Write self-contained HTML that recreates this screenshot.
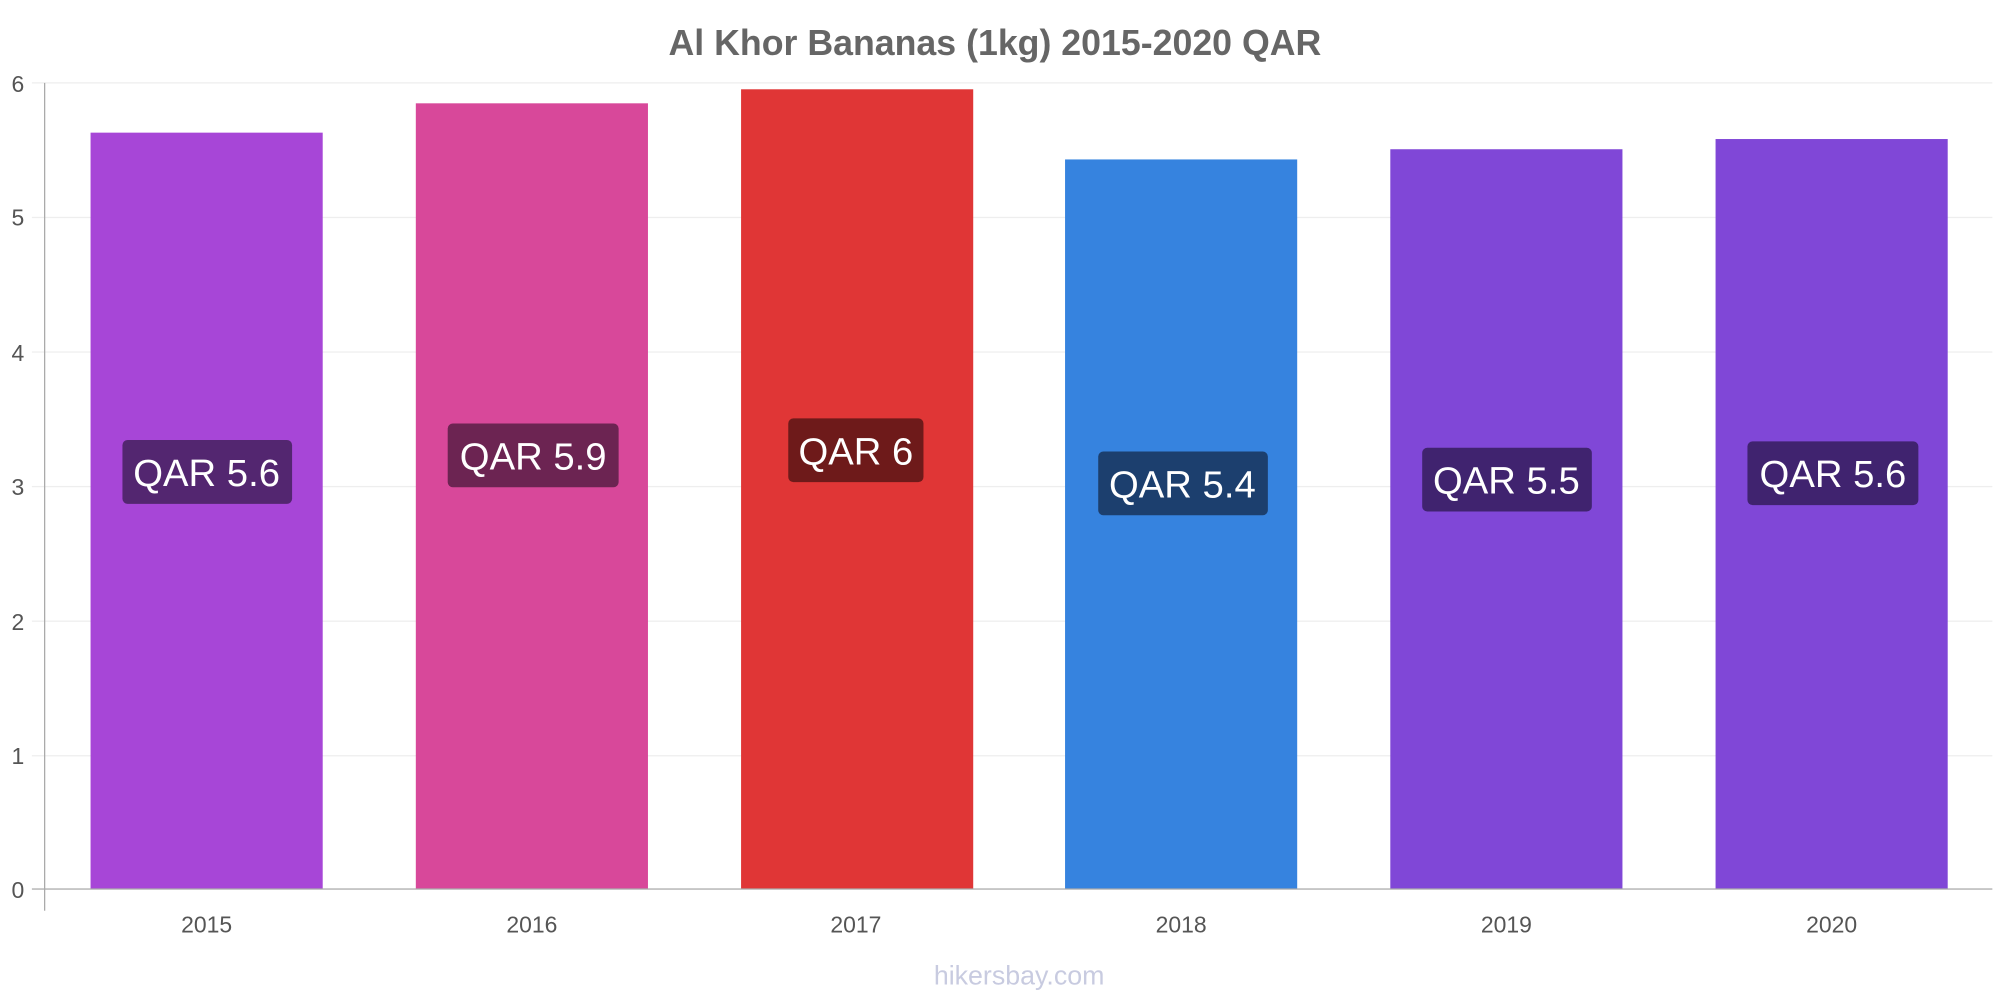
<!DOCTYPE html>
<html><head><style>html,body{margin:0;padding:0;background:#fff}svg{display:block}</style></head>
<body>
<svg width="2000" height="1000" viewBox="0 0 1568 784" xmlns="http://www.w3.org/2000/svg" font-family="Liberation Sans, sans-serif">
<text x="780" y="43" text-anchor="middle" font-size="28" font-weight="bold" fill="#666">Al Khor Bananas (1kg) 2015-2020 QAR</text>
<g fill="#eee">
<rect x="25" y="64.5" width="1537" height="1"/><rect x="25" y="170" width="1537" height="1"/><rect x="25" y="275.5" width="1537" height="1"/><rect x="25" y="381" width="1537" height="1"/><rect x="25" y="486.5" width="1537" height="1"/><rect x="25" y="592" width="1537" height="1"/>
</g>
<g font-size="18" fill="#555" text-anchor="end">
<text x="19" y="72">6</text><text x="19" y="177">5</text><text x="19" y="283">4</text><text x="19" y="388">3</text><text x="19" y="494">2</text><text x="19" y="599">1</text><text x="19" y="704">0</text>
</g>
<rect x="71" y="104" width="182" height="593" fill="#a746d7"/>
<rect x="326" y="81" width="182" height="616" fill="#d8489a"/>
<rect x="581" y="70" width="182" height="627" fill="#e03636"/>
<rect x="835" y="125" width="182" height="572" fill="#3683df"/>
<rect x="1090" y="117" width="182" height="580" fill="#8047d7"/>
<rect x="1345" y="109" width="182" height="588" fill="#8047d7"/>
<rect x="34.5" y="65" width="1" height="649" fill="#aaa"/>
<rect x="25" y="696.5" width="1537" height="1" fill="#aaa"/>
<g font-size="30" fill="#fff" text-anchor="middle">
<rect x="96" y="345" width="133" height="50" rx="4" fill="#532670"/><text x="162" y="381">QAR 5.6</text>
<rect x="351" y="332" width="134" height="50" rx="4" fill="#6c2452"/><text x="418" y="368">QAR 5.9</text>
<rect x="618" y="328" width="106" height="50" rx="4" fill="#6e1a1a"/><text x="671" y="364">QAR 6</text>
<rect x="861" y="354" width="133" height="50" rx="4" fill="#1c3f6e"/><text x="927" y="390">QAR 5.4</text>
<rect x="1115" y="351" width="133" height="50" rx="4" fill="#40236f"/><text x="1181" y="387">QAR 5.5</text>
<rect x="1370" y="346" width="134" height="50" rx="4" fill="#40236f"/><text x="1437" y="382">QAR 5.6</text>
</g>
<g font-size="18" fill="#555" text-anchor="middle">
<text x="162" y="731">2015</text><text x="417" y="731">2016</text><text x="671" y="731">2017</text><text x="926" y="731">2018</text><text x="1181" y="731">2019</text><text x="1436" y="731">2020</text>
</g>
<text x="799" y="772" text-anchor="middle" font-size="21" fill="#c8cbe0">hikersbay.com</text>
</svg>
</body></html>
